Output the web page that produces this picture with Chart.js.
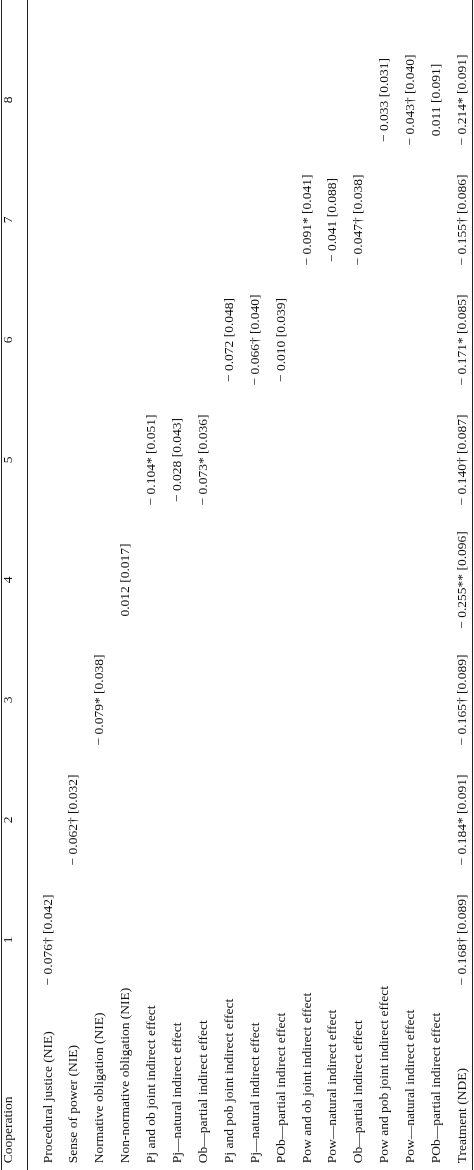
<!DOCTYPE html>
<html>
<head>
<meta charset="utf-8">
<script src="https://cdn.jsdelivr.net/npm/chart.js@4"></script>
<style>
  html, body { margin: 0; padding: 0; background: #fff; overflow: hidden; }
  #wrap {
    position: absolute; left: 0; top: 0; width: 1170px; height: 474px;
    transform-origin: top left;
    transform: rotate(-90deg) translate(-1170px, 0);
  }
</style>
</head>
<body>
<div id="wrap"><canvas id="tableChart" width="1170" height="474"></canvas></div>
<script>
// Row labels (table rows, top to bottom)
const rowLabels = [
  "Procedural justice (NIE)",
  "Sense of power (NIE)",
  "Normative obligation (NIE)",
  "Non-normative obligation (NIE)",
  "Pj and ob joint indirect effect",
  "Pj\u2014natural indirect effect",
  "Ob\u2014partial indirect effect",
  "Pj and pob joint indirect effect",
  "Pj\u2014natural indirect effect",
  "POb\u2014partial indirect effect",
  "Pow and ob joint indirect effect",
  "Pow\u2014natural indirect effect",
  "Ob\u2014partial indirect effect",
  "Pow and pob joint indirect effect",
  "Pow\u2014natural indirect effect",
  "POb\u2014partial indirect effect",
  "Treatment (NDE)"
];
const columnLabels = ["1", "2", "3", "4", "5", "6", "7", "8"];
const headerLabel = "Cooperation";

// Indirect effects: row number, model column, estimate, significance, SE
const effRow = [1, 2, 3, 4, 5, 6, 7, 8, 9, 10, 11, 12, 13, 14, 15, 16];
const effCol = [1, 2, 3, 4, 5, 5, 5, 6, 6, 6, 7, 7, 7, 8, 8, 8];
const effEst = [-0.076, -0.062, -0.079, 0.012, -0.104, -0.028, -0.073, -0.072, -0.066, -0.010, -0.091, -0.041, -0.047, -0.033, -0.043, 0.011];
const effSig = ["\u2020", "\u2020", "*", "", "*", "", "*", "", "\u2020", "", "*", "", "\u2020", "", "\u2020", ""];
const effSE = [0.042, 0.032, 0.038, 0.017, 0.051, 0.043, 0.036, 0.048, 0.040, 0.039, 0.041, 0.088, 0.038, 0.031, 0.040, 0.091];

// Treatment (NDE) row, one per model
const ndeEst = [-0.168, -0.184, -0.165, -0.255, -0.140, -0.171, -0.155, -0.214];
const ndeSig = ["\u2020", "*", "\u2020", "**", "\u2020", "*", "\u2020", "*"];
const ndeSE = [0.089, 0.091, 0.089, 0.096, 0.087, 0.085, 0.086, 0.091];

function fmt(v, s, se) {
  const a = Math.abs(v).toFixed(3);
  return (v < 0 ? "\u2212 " : "") + a + s + " [" + se.toFixed(3) + "]";
}

const points = [];
for (let i = 0; i < effEst.length; i++)
  points.push({x: effCol[i], y: effRow[i], t: fmt(effEst[i], effSig[i], effSE[i])});
for (let i = 0; i < ndeEst.length; i++)
  points.push({x: i + 1, y: 17, t: fmt(ndeEst[i], ndeSig[i], ndeSE[i])});

const FONT = "13.5px 'Liberation Serif', 'DejaVu Serif', serif";

const tablePlugin = {
  id: "tableText",
  afterDatasetsDraw(chart) {
    const ctx = chart.ctx, xs = chart.scales.x, ys = chart.scales.y;
    ctx.save();
    ctx.font = FONT;
    ctx.fillStyle = "#111";
    ctx.textBaseline = "middle";
    // rules
    ctx.strokeStyle = "#222";
    ctx.lineWidth = 1.2;
    for (const r of [-0.8, 0.19, 17.37]) {
      const py = Math.round(ys.getPixelForValue(r)) + 0.5;
      ctx.beginPath(); ctx.moveTo(0, py); ctx.lineTo(chart.width, py); ctx.stroke();
    }
    // header
    const hy = ys.getPixelForValue(-0.544);
    ctx.textAlign = "left";
    ctx.fillText(headerLabel, xs.getPixelForValue(-0.86), hy);
    ctx.textAlign = "center";
    columnLabels.forEach((c, i) => ctx.fillText(c, xs.getPixelForValue(i + 1), hy));
    // row labels
    ctx.textAlign = "left";
    rowLabels.forEach((l, i) => ctx.fillText(l, xs.getPixelForValue(-0.86), ys.getPixelForValue(i + 1)));
    // values
    ctx.textAlign = "center";
    for (const p of chart.data.datasets[0].data)
      ctx.fillText(p.t, xs.getPixelForValue(p.x), ys.getPixelForValue(p.y));
    ctx.restore();
  }
};

new Chart(document.getElementById("tableChart"), {
  type: "scatter",
  data: { datasets: [{ data: points, pointRadius: 0, pointHoverRadius: 0 }] },
  options: {
    responsive: false,
    animation: false,
    layout: { padding: 0 },
    plugins: { legend: { display: false }, tooltip: { enabled: false } },
    scales: {
      x: { type: "linear", min: -0.917, max: 8.833, display: false },
      y: { type: "linear", min: -0.853, max: 17.45, reverse: true, display: false }
    }
  },
  plugins: [tablePlugin]
});
</script>
</body>
</html>
